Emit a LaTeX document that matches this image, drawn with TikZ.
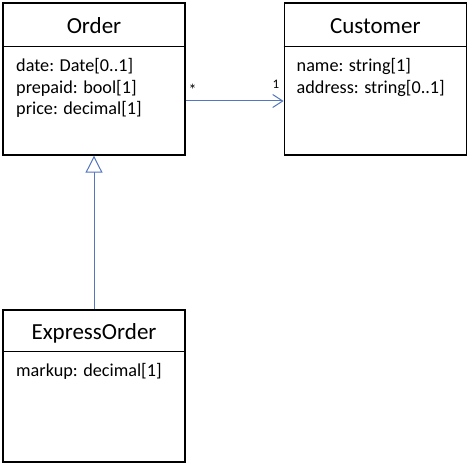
\documentclass[tikz,border=0pt]{standalone}
\usepackage{fontspec}
\setmainfont{Carlito}
\usetikzlibrary{arrows.meta}
\definecolor{linkblue}{RGB}{84,118,190}
\tikzset{
  classbox/.style={draw=black, line width=1.4pt, minimum width=182pt, minimum height=152pt, inner sep=0pt, fill=white},
  title/.style={font=\fontsize{23}{26}\selectfont, anchor=base, inner sep=0pt},
  attr/.style={font=\fontsize{18.2}{21}\selectfont, anchor=base west, inner sep=0pt},
  mult/.style={font=\fontsize{13}{15}\selectfont, inner sep=0pt},
  divider/.style={draw=black, line width=1.4pt},
  assoc/.style={draw=linkblue, line width=1pt, -{Straight Barb[length=10pt,width=13pt,line width=1pt]}},
  gen/.style={draw=linkblue, line width=1pt, -{Triangle[open,length=17pt,width=17pt,line width=1pt,fill=white]}}
}
\begin{document}
\begin{tikzpicture}[x=1pt,y=1pt]
\useasboundingbox (0,0) rectangle (474,467);
% boxes
\node[classbox] (order) at (94,388) {};
\node[classbox] (customer) at (375.3,388) {};
\node[classbox] (express) at (94,81) {};
% dividers
\draw[divider] ([yshift=-44pt]order.north west) -- ([yshift=-44pt]order.north east);
\draw[divider] ([yshift=-44pt]customer.north west) -- ([yshift=-44pt]customer.north east);
\draw[divider] ([yshift=-42pt]express.north west) -- ([yshift=-42pt]express.north east);
% titles
\node[title] (ordertitle) at (94,433.7) {Order};
\node[title] (customertitle) at (375.3,433.7) {Customer};
\node[title] (expresstitle) at (94,127.7) {ExpressOrder};
% attributes
\node[attr] (a1) at (16,395.3) {date: Date[0..1]};
\node[attr] (a2) at (16,373.7) {prepaid: bool[1]};
\node[attr] (a3) at (16,352.2) {price: decimal[1]};
\node[attr] (c1) at (296.5,395.3) {name: string[1]};
\node[attr] (c2) at (296.5,373.7) {address: string[0..1]};
\node[attr] (e1) at (16,91) {markup: decimal[1]};
% connectors
\draw[assoc] ([yshift=-22pt]order.east) -- ([yshift=-22pt]customer.west);
\draw[gen] (express.north) -- (order.south);
% multiplicities
\node[mult, font=\fontsize{16}{18}\selectfont] (mstar) at (192.5,377.5) {*};
\node[mult] (mone) at (276,383) {1};
\end{tikzpicture}
\end{document}
